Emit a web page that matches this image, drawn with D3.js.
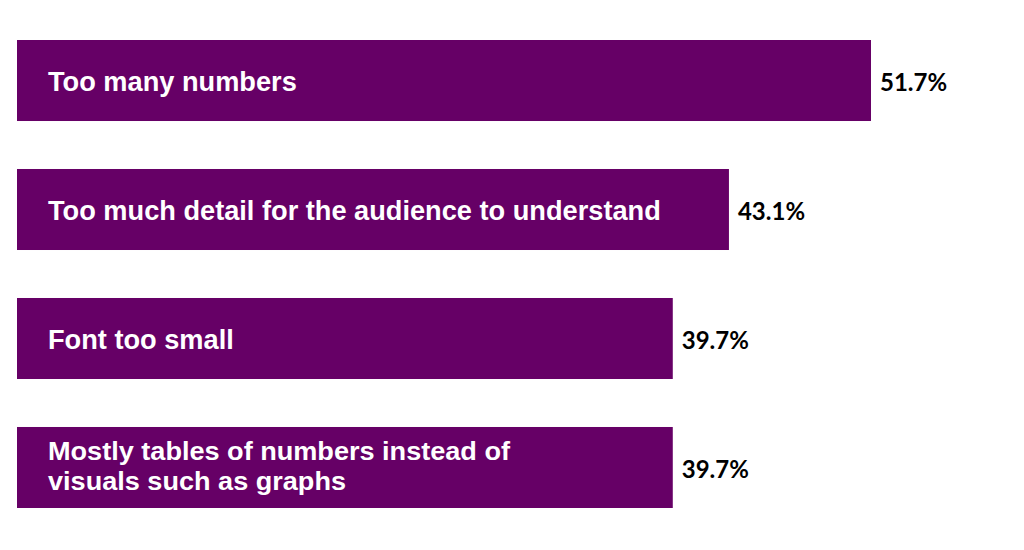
<!DOCTYPE html>
<html>
<head>
<meta charset="utf-8">
<script src="https://cdn.jsdelivr.net/npm/d3@7"></script>
<style>
  body { margin: 0; background: #fff; }
  .cat { font-family: "Liberation Sans", Arial, sans-serif; font-weight: bold; fill: #fff; }
  .val { font-family: Lato, "Open Sans", sans-serif; font-weight: bold; fill: #000; }
</style>
</head>
<body>
<svg id="chart" width="1024" height="550"></svg>
<script>
// data
const categories = [
    ["Too many numbers"],
    ["Too much detail for the audience to understand"],
    ["Font too small"],
    ["Mostly tables of numbers instead of", "visuals such as graphs"]
];
const values = [51.7, 43.1, 39.7, 39.7];
const valueLabels = ["51.7%", "43.1%", "39.7%", "39.7%"];

const data = values.map((v, i) => ({ lines: categories[i], value: v, label: valueLabels[i], key: i }));

const svg = d3.select("#chart");
var left = 17;

// scales
var x = d3.scaleLinear().domain([0, 51.7]).range([0, 854]);
var y = d3.scaleBand().domain(data.map(d => d.key)).range([40, 508]).paddingInner(0.372).paddingOuter(0);

let chartArea = svg.append("g").attr("class", "chart");

chartArea.selectAll("rect")
    .data(data)
    .join("rect")
    .attr("x", left)
    .attr("y", d => y(d.key))
    .attr("width", d => x(d.value))
    .attr("height", y.bandwidth())
    .attr("fill", "#660066");

// category text inside bars
let cats = chartArea.selectAll("text.cat")
    .data(data)
    .join("text")
    .attr("class", "cat")
    .attr("x", 48)
    .attr("font-size", d => d.lines.length > 1 ? 25.5 : 27.2);

cats.each(function(d) {
    const mid = y(d.key) + y.bandwidth() / 2;
    const n = d.lines.length;
    const lh = 30;
    d3.select(this).selectAll("tspan")
        .data(d.lines)
        .join("tspan")
        .attr("x", 48)
        .attr("y", (l, j) => mid + (n > 1 ? 8 : 10.5) + (j - (n - 1) / 2) * lh)
        .text(l => l);
    if (n > 1) {
        // the two-line label is drawn condensed
        d3.select(this).selectAll("tspan")
            .attr("textLength", (l, j) => j == 0 ? 462 : 298)
            .attr("lengthAdjust", "spacingAndGlyphs");
    }
});

// value labels
chartArea.selectAll("text.val")
    .data(data)
    .join("text")
    .attr("class", "val")
    .attr("x", d => left + x(d.value) + 9)
    .attr("y", d => y(d.key) + y.bandwidth() / 2 + 10.5)
    .attr("font-size", 24)
    .text(d => d.label);
</script>
</body>
</html>
